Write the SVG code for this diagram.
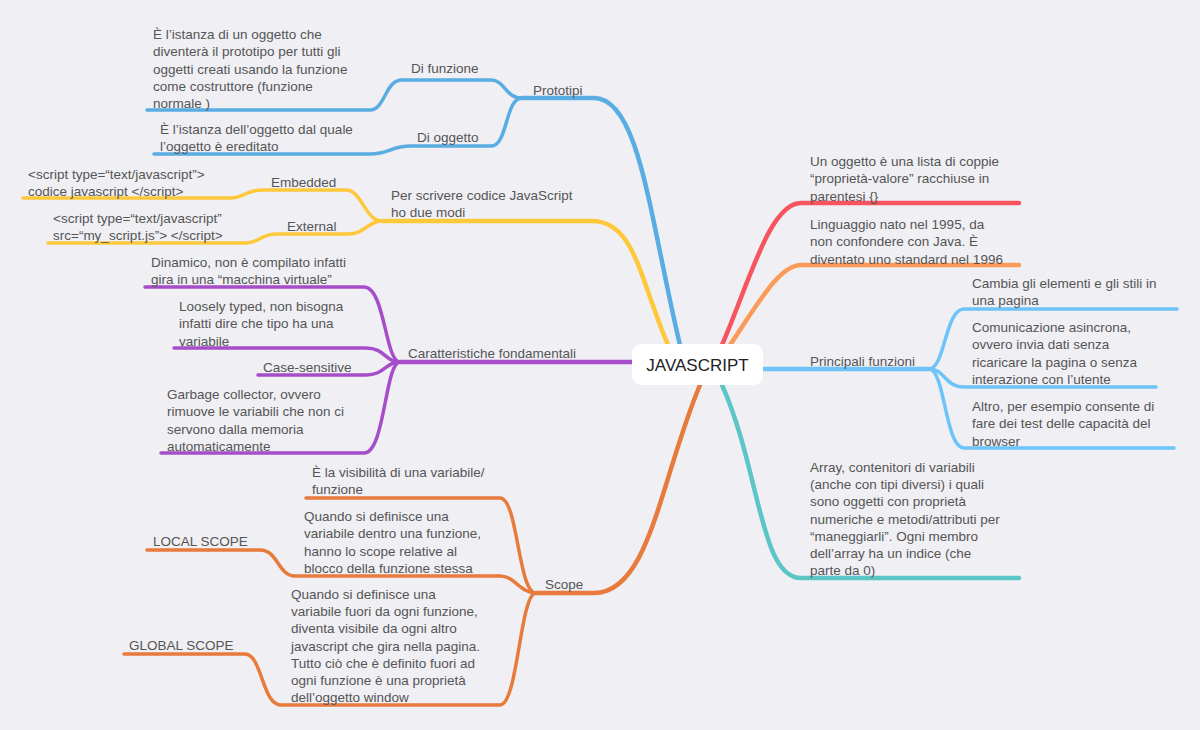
<svg xmlns="http://www.w3.org/2000/svg" width="1200" height="730" viewBox="0 0 1200 730">
<style>
.t{font-family:"Liberation Sans",Arial,sans-serif;font-size:13.5px;fill:#555}
.c{fill:none;stroke-linecap:round;stroke-linejoin:round}
.m{stroke-width:4.5}.s{stroke-width:3.5}
.b{stroke:#59ade2}.y{stroke:#fdc93b}.p{stroke:#a64ec9}.o{stroke:#e87a3c}.r{stroke:#f8545f}.or{stroke:#fc9a57}.lb{stroke:#6ec3f8}.tl{stroke:#5cc5c6}
</style>
<rect width="1200" height="730" fill="#efeff4"/>
<g id="connectors">
<path class="c m b" d="M680,345 C650,220 640,98 594,98 L522,98"/>
<path class="c s b" d="M522,98 C505,98 505,80 491,80 L402,80 C385,80 385,110 370,110 L147,110"/>
<path class="c s b" d="M522,98 C505,98 508,146 491,146 L411,146 C390,146 390,154 370,154 L154,154"/>
<path class="c m y" d="M668,345 C640,280 635,221 592,221 L382,221"/>
<path class="c s y" d="M382,221 C365,221 362,190 346,190 L263,190 C245,190 245,198 230,198 L23,198"/>
<path class="c s y" d="M382,221 C368,221 365,234 348,234 L277,234 C260,234 260,243 245,243 L48,243"/>
<path class="c m p" d="M632,362 L400,362"/>
<path class="c s p" d="M400,362 C385,362 385,287 364,287 L145,287"/>
<path class="c s p" d="M400,362 C385,362 385,348 366,348 L174,348"/>
<path class="c s p" d="M400,362 C385,362 385,375 366,375 L258,375"/>
<path class="c s p" d="M400,362 C385,362 385,453 364,453 L161,453"/>
<path class="c m o" d="M700,385 C660,480 650,593 594,593 L536,593"/>
<path class="c s o" d="M536,593 C518,593 518,498 500,498 L306,498"/>
<path class="c s o" d="M536,593 C520,593 515,576 500,576 L295,576 C278,576 278,550 260,550 L147,550"/>
<path class="c s o" d="M536,593 C520,593 518,705 500,705 L281,705 C262,705 262,654 245,654 L124,654"/>
<path class="c m r" d="M722,345 C750,280 770,203 801,203 L1019,203"/>
<path class="c m or" d="M730,345 C760,300 780,265 801,265 L1019,265"/>
<path class="c m lb" d="M763,369 L929,369"/>
<path class="c s lb" d="M929,369 C945,369 945,309 964,309 L1177,309"/>
<path class="c s lb" d="M929,369 C945,369 945,387 964,387 L1156,387"/>
<path class="c s lb" d="M929,369 C945,369 945,448 964,448 L1174,448"/>
<path class="c m tl" d="M722,385 C760,470 760,578 801,578 L1019,578"/>
</g>
<g id="center"><rect x="632" y="344" width="131" height="41" rx="9" fill="#fff"/><text x="697.5" y="371" text-anchor="middle" style="font-family:'Liberation Sans',Arial,sans-serif;font-size:17px;fill:#222">JAVASCRIPT</text></g>
<g id="prototipi"><text class="t" x="533" y="95">Prototipi</text></g>
<g id="difunzione"><text class="t" x="411" y="73">Di funzione</text></g>
<g id="difunzione-d"><text class="t" x="153" y="39"><tspan x="153">È l’istanza di un oggetto che</tspan><tspan x="153" dy="17.3">diventerà il prototipo per tutti gli</tspan><tspan x="153" dy="17.3">oggetti creati usando la funzione</tspan><tspan x="153" dy="17.3">come costruttore (funzione</tspan><tspan x="153" dy="17.3">normale )</tspan></text></g>
<g id="dioggetto"><text class="t" x="417" y="142">Di oggetto</text></g>
<g id="dioggetto-d"><text class="t" x="160" y="134"><tspan x="160">È l’istanza dell’oggetto dal quale</tspan><tspan x="160" dy="17.3">l’oggetto è ereditato</tspan></text></g>
<g id="scrivere"><text class="t" x="391" y="200"><tspan x="391">Per scrivere codice JavaScript</tspan><tspan x="391" dy="17.3">ho due modi</tspan></text></g>
<g id="embedded"><text class="t" x="271" y="187">Embedded</text></g>
<g id="embedded-d"><text class="t" x="28" y="179"><tspan x="28">&lt;script type=“text/javascript”&gt;</tspan><tspan x="28" dy="17.3">codice javascript &lt;/script&gt;</tspan></text></g>
<g id="external"><text class="t" x="287" y="231">External</text></g>
<g id="external-d"><text class="t" x="53" y="223"><tspan x="53">&lt;script type=“text/javascript”</tspan><tspan x="53" dy="17.3">src=“my_script.js”&gt; &lt;/script&gt;</tspan></text></g>
<g id="caratteristiche"><text class="t" x="408" y="358">Caratteristiche fondamentali</text></g>
<g id="dinamico"><text class="t" x="151" y="267"><tspan x="151">Dinamico, non è compilato infatti</tspan><tspan x="151" dy="17.3">gira in una “macchina virtuale”</tspan></text></g>
<g id="loosely"><text class="t" x="179" y="311"><tspan x="179">Loosely typed, non bisogna</tspan><tspan x="179" dy="17.3">infatti dire che tipo ha una</tspan><tspan x="179" dy="17.3">variabile</tspan></text></g>
<g id="case"><text class="t" x="263" y="372">Case-sensitive</text></g>
<g id="garbage"><text class="t" x="167" y="399"><tspan x="167">Garbage collector, ovvero</tspan><tspan x="167" dy="17.3">rimuove le variabili che non ci</tspan><tspan x="167" dy="17.3">servono dalla memoria</tspan><tspan x="167" dy="17.3">automaticamente</tspan></text></g>
<g id="scope"><text class="t" x="545" y="589">Scope</text></g>
<g id="visibilita"><text class="t" x="312" y="477"><tspan x="312">È la visibilità di una variabile/</tspan><tspan x="312" dy="17.3">funzione</tspan></text></g>
<g id="local-d"><text class="t" x="304" y="521"><tspan x="304">Quando si definisce una</tspan><tspan x="304" dy="17.3">variabile dentro una funzione,</tspan><tspan x="304" dy="17.3">hanno lo scope relative al</tspan><tspan x="304" dy="17.3">blocco della funzione stessa</tspan></text></g>
<g id="local"><text class="t" x="153" y="546">LOCAL SCOPE</text></g>
<g id="global-d"><text class="t" x="291" y="599"><tspan x="291">Quando si definisce una</tspan><tspan x="291" dy="17.2">variabile fuori da ogni funzione,</tspan><tspan x="291" dy="17.2">diventa visibile da ogni altro</tspan><tspan x="291" dy="17.2">javascript che gira nella pagina.</tspan><tspan x="291" dy="17.2">Tutto ciò che è definito fuori ad</tspan><tspan x="291" dy="17.2">ogni funzione è una proprietà</tspan><tspan x="291" dy="17.2">dell’oggetto window</tspan></text></g>
<g id="global"><text class="t" x="129" y="650">GLOBAL SCOPE</text></g>
<g id="oggetto"><text class="t" x="810" y="166"><tspan x="810">Un oggetto è una lista di coppie</tspan><tspan x="810" dy="17.3">“proprietà-valore” racchiuse in</tspan><tspan x="810" dy="17.3">parentesi {}</tspan></text></g>
<g id="linguaggio"><text class="t" x="810" y="229"><tspan x="810">Linguaggio nato nel 1995, da</tspan><tspan x="810" dy="17.3">non confondere con Java. È</tspan><tspan x="810" dy="17.3">diventato uno standard nel 1996</tspan></text></g>
<g id="principali"><text class="t" x="810" y="366">Principali funzioni</text></g>
<g id="cambia"><text class="t" x="972" y="288"><tspan x="972">Cambia gli elementi e gli stili in</tspan><tspan x="972" dy="17.3">una pagina</tspan></text></g>
<g id="comunicazione"><text class="t" x="972" y="332"><tspan x="972">Comunicazione asincrona,</tspan><tspan x="972" dy="17.3">ovvero invia dati senza</tspan><tspan x="972" dy="17.3">ricaricare la pagina o senza</tspan><tspan x="972" dy="17.3">interazione con l’utente</tspan></text></g>
<g id="altro"><text class="t" x="972" y="411"><tspan x="972">Altro, per esempio consente di</tspan><tspan x="972" dy="17.3">fare dei test delle capacità del</tspan><tspan x="972" dy="17.3">browser</tspan></text></g>
<g id="array"><text class="t" x="810" y="472"><tspan x="810">Array, contenitori di variabili</tspan><tspan x="810" dy="17.2">(anche con tipi diversi) i quali</tspan><tspan x="810" dy="17.2">sono oggetti con proprietà</tspan><tspan x="810" dy="17.2">numeriche e metodi/attributi per</tspan><tspan x="810" dy="17.2">“maneggiarli”. Ogni membro</tspan><tspan x="810" dy="17.2">dell’array ha un indice (che</tspan><tspan x="810" dy="17.2">parte da 0)</tspan></text></g>
</svg>
